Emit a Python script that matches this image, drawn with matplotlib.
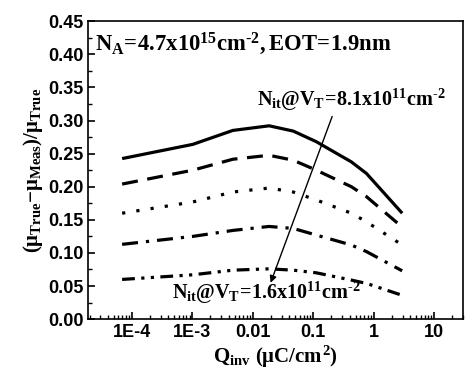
import numpy as np
import matplotlib.pyplot as plt
from matplotlib.ticker import FixedLocator, LogLocator, MultipleLocator, NullFormatter

plt.rcParams['mathtext.fontset'] = 'custom'
plt.rcParams['mathtext.rm'] = 'Liberation Serif:bold'
plt.rcParams['mathtext.it'] = 'Liberation Serif:bold'
plt.rcParams['mathtext.bf'] = 'Liberation Serif:bold'

# data
q_inv = 10 ** np.array([-4.16, -2.99, -2.33, -1.73, -1.33, -0.95, -0.37, -0.12, 0.47])
err_81 = [0.2425, 0.264, 0.285, 0.292, 0.284, 0.268, 0.2375, 0.22, 0.16]
err_64 = [0.204, 0.225, 0.2415, 0.2475, 0.240, 0.225, 0.200, 0.185, 0.139]
err_48 = [0.160, 0.177, 0.192, 0.198, 0.192, 0.180, 0.160, 0.147, 0.112]
err_32 = [0.113, 0.125, 0.134, 0.140, 0.137, 0.127, 0.112, 0.102, 0.073]
err_16 = [0.060, 0.067, 0.074, 0.076, 0.074, 0.070, 0.059, 0.054, 0.036]

x_ticks = [1e-4, 1e-3, 1e-2, 1e-1, 1, 10]
x_labels = ['1E-4', '1E-3', '0.01', '0.1', '1', '10']

fig = plt.figure(figsize=(4.74, 3.85), dpi=100)
ax = fig.add_axes([0.186, 0.171, 0.791, 0.774])

lw = 2.3
ax.plot(q_inv, err_81, color='black', lw=lw, solid_capstyle='butt')
ax.plot(q_inv, err_64, color='black', lw=lw, dashes=(5, 3))
ax.plot(q_inv, err_48, color='black', lw=lw, dashes=(1, 3.5))
ax.plot(q_inv, err_32, color='black', lw=lw, dashes=(5, 2.5, 1, 2.5))
ax.plot(q_inv, err_16, color='black', lw=lw, dashes=(4, 2, 1, 2, 1, 2))

ax.set_xscale('log')
ax.set_xlim(1.9e-5, 30)
ax.set_ylim(0, 0.45)

ax.xaxis.set_major_locator(FixedLocator(x_ticks))
ax.set_xticklabels(x_labels)
ax.xaxis.set_minor_locator(LogLocator(base=10, subs=np.arange(2, 10), numticks=20))
ax.xaxis.set_minor_formatter(NullFormatter())
ax.yaxis.set_major_locator(MultipleLocator(0.05))
ax.yaxis.set_minor_locator(MultipleLocator(0.025))
ax.set_yticklabels(['%.2f' % v for v in ax.get_yticks()])

ax.tick_params(which='both', direction='in', top=False, right=False)
ax.tick_params(which='major', length=5, width=1.2)
ax.tick_params(which='minor', length=3, width=1)
for lab in ax.get_xticklabels() + ax.get_yticklabels():
    lab.set_fontfamily('Liberation Sans')
    lab.set_fontweight('bold')
    lab.set_fontsize(13)
for sp in ax.spines.values():
    sp.set_linewidth(1.2)

ax.set_xlabel(r'$Q_{inv}\ (\mathrm{μ}C/cm^2)$', fontsize=15, labelpad=2)
ax.set_ylabel(r'$(\mathrm{μ}_{True}\mathrm{-}\mathrm{μ}_{Meas})/\mathrm{μ}_{True}$', fontsize=15, labelpad=2)

ax.text(0.019, 0.925, r'$N_A\!=\!\mathrm{4.7x10^{15}cm^{‐2}, EOT\!=\!1.9nm}$', transform=ax.transAxes,
        fontsize=16.3, va='center', ha='left')
ax.text(0.45, 0.735, r'$N_{it}\mathrm{@}V_T\!=\!\mathrm{8.1x10^{11}cm^{‐2}}$', transform=ax.transAxes,
        fontsize=14.5, va='center', ha='left')
ax.text(0.224, 0.087, r'$N_{it}\mathrm{@}V_T\!=\!\mathrm{1.6x10^{11}cm^{‐2}}$', transform=ax.transAxes,
        fontsize=14.5, va='center', ha='left')

ax.annotate('', xy=(0.019, 0.051), xytext=(0.213, 0.31),
            arrowprops=dict(arrowstyle='-|>', color='black', lw=1, mutation_scale=10))

fig.savefig('out.png', dpi=100)
